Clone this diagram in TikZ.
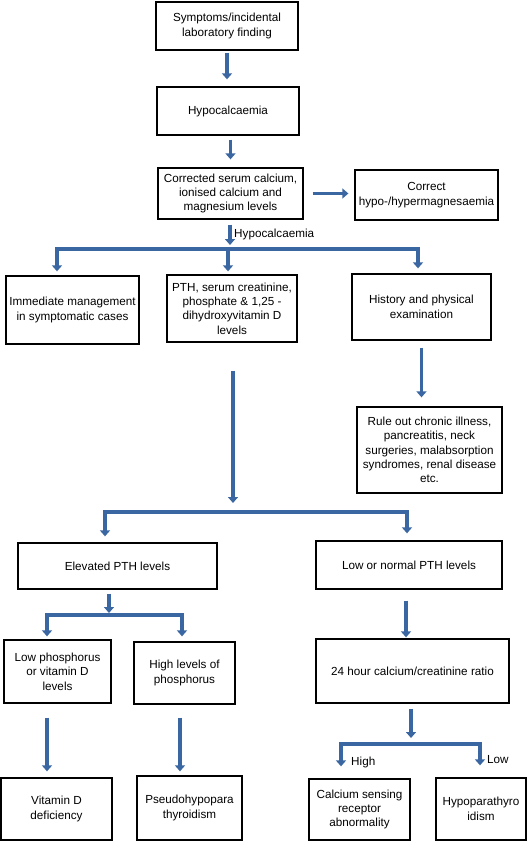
\documentclass[tikz,border=0pt]{standalone}
\usepackage{fontspec}
\setmainfont{Liberation Sans}
\usetikzlibrary{arrows.meta}
\definecolor{arrblue}{RGB}{58,102,162}
\begin{document}
\begin{tikzpicture}[x=1pt,y=-1pt,
 box/.style={draw=black, line width=1.3pt, inner sep=0pt, align=center, font=\fontsize{11.7}{14.4}\selectfont},
 arr/.style={draw=arrblue, line width=3.6pt, -{Triangle[width=10pt,length=6pt]}},
 barr/.style={draw=arrblue, line width=3.6pt, line join=miter, {Triangle[width=10pt,length=6pt]}-{Triangle[width=10pt,length=6pt]}},
 lbl/.style={font=\fontsize{11.7}{14}\selectfont, anchor=west, inner sep=1pt}]
\useasboundingbox (0,0) rectangle (528,842);
\node[box, minimum width=142pt, minimum height=48pt] (n1) at (227,26) {Symptoms/incidental\\laboratory finding};
\node[box, minimum width=142pt, minimum height=48pt] (n2) at (228,111) {Hypocalcaemia};
\node[box, minimum width=145pt, minimum height=51pt] (n3) at (230.5,193.5) {Corrected serum calcium,\\ionised calcium and\\magnesium levels};
\node[box, minimum width=143pt, minimum height=50pt] (n4) at (426.5,195) {Correct\\hypo-/hypermagnesaemia};
\node[box, minimum width=133pt, minimum height=68pt] (n5) at (72.5,310) {Immediate management\\in symptomatic cases};
\node[box, minimum width=130pt, minimum height=67pt] (n6) at (232,308.5) {PTH, serum creatinine,\\phosphate \& 1,25 -\\dihydroxyvitamin D\\levels};
\node[box, minimum width=139pt, minimum height=66pt] (n7) at (421.5,307) {History and physical\\examination};
\node[box, minimum width=145pt, minimum height=86pt] (n8) at (429.5,450) {Rule out chronic illness,\\pancreatitis, neck\\surgeries, malabsorption\\syndromes, renal disease\\etc.};
\node[box, minimum width=199pt, minimum height=46pt] (n9) at (117.5,566) {Elevated PTH levels};
\node[box, minimum width=186pt, minimum height=48pt] (n10) at (409,565) {Low or normal PTH levels};
\node[box, minimum width=107pt, minimum height=63pt] (n11) at (57.5,671.5) {Low phosphorus\\or vitamin D\\levels};
\node[box, minimum width=101pt, minimum height=62pt] (n12) at (184.5,673) {High levels of\\phosphorus};
\node[box, minimum width=193pt, minimum height=64pt] (n13) at (412.5,671) {24 hour calcium/creatinine ratio};
\node[box, minimum width=111pt, minimum height=62pt] (n14) at (56.5,809) {Vitamin D\\deficiency};
\node[box, minimum width=105pt, minimum height=64pt] (n15) at (189.5,808) {Pseudohypopara\\thyroidism};
\node[box, minimum width=101pt, minimum height=61pt] (n16) at (359.5,809.5) {Calcium sensing\\receptor\\abnormality};
\node[box, minimum width=90pt, minimum height=62pt] (n17) at (481,809) {Hypoparathyro\\idism};
% coordinates
\coordinate (b1m) at (230,249);
\coordinate (b1l) at (57,249);
\coordinate (b1c) at (228,249);
\coordinate (b1r) at (418,249);
\coordinate (b2m) at (233,512);
\coordinate (b2l) at (105,512);
\coordinate (b2r) at (407,512);
\coordinate (b3m) at (109,615);
\coordinate (b3l) at (47,615);
\coordinate (b3r) at (182,615);
\coordinate (x8) at (406,620);
\coordinate (x9) at (47,740);
\coordinate (x10) at (180,740);
\coordinate (b4m) at (411,744);
\coordinate (b4l) at (341,744);
\coordinate (b4r) at (480,744);
% arrows
\draw[arr, shorten <=2pt, shorten >=7pt] (n1.south) -- (n1.south |- n2.north);
\draw[arr, shorten <=4pt, shorten >=8pt] (n3.north |- n2.south) -- (n3.north);
\draw[arr, shorten <=9pt, shorten >=6pt] (n3.east) -- (n3.east -| n4.west);
\draw[arr, shorten <=5pt, shorten >=4pt] (b1m |- n3.south) -- (b1m);
\node[lbl] (h1) at (233,234) {Hypocalcaemia};
\draw[barr, shorten <=4pt, shorten >=5pt] (b1l |- n5.north) -- (b1l) -- (b1r) -- (b1r |- n7.north);
\draw[arr, shorten >=3pt] (b1c) -- (b1c |- n6.north);
\draw[arr, shorten <=28pt, shorten >=9pt] (b2m |- n6.south) -- (b2m);
\draw[arr, shorten <=7pt, shorten >=9pt] (n7.south) -- (n7.south |- n8.north);
\draw[barr, shorten <=6pt, shorten >=7pt] (b2l |- n9.north) -- (b2l) -- (b2r) -- (b2r |- n10.north);
\draw[arr, shorten <=4pt, shorten >=2pt] (b3m |- n9.south) -- (b3m);
\draw[barr, shorten <=3pt, shorten >=5pt] (b3l |- n11.north) -- (b3l) -- (b3r) -- (b3r |- n12.north);
\draw[arr, shorten <=11pt, shorten >=1pt] (x8 |- n10.south) -- (x8 |- n13.north);
\draw[arr, shorten <=14pt, shorten >=6pt] (x9 |- n11.south) -- (x9 |- n14.north);
\draw[arr, shorten <=13pt, shorten >=4pt] (x10 |- n12.south) -- (x10 |- n15.north);
\draw[arr, shorten <=5pt, shorten >=6pt] (b4m |- n13.south) -- (b4m);
\draw[barr, shorten <=12pt, shorten >=12pt] (b4l |- n16.north) -- (b4l) -- (b4r) -- (b4r |- n17.north);
\node[lbl] (hi) at (350,762) {High};
\node[lbl] (lo) at (486,760) {Low};
\end{tikzpicture}
\end{document}
